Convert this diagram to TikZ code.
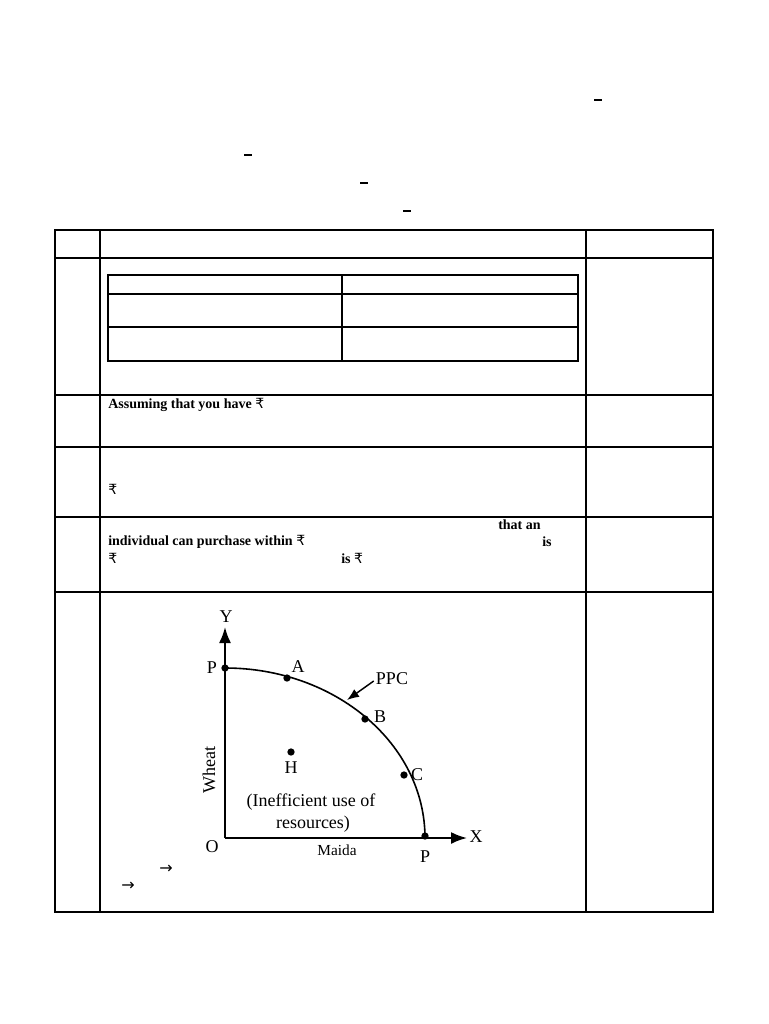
\documentclass[tikz,border=0pt]{standalone}
\usepackage{fontspec}
\setmainfont{Liberation Serif}
\newfontfamily\djv{DejaVu Sans}
\usetikzlibrary{arrows.meta}
\begin{document}
\begin{tikzpicture}[x=0.75pt,y=-0.75pt,
  tl/.style={line width=0.8pt},
  lbl/.style={font=\fontsize{13.5}{15}\selectfont,inner sep=0pt},
  bt/.style={font=\fontsize{10.5}{12}\selectfont\bfseries,inner sep=0pt,anchor=west},
  dot/.style={circle,fill=black,inner sep=0pt,minimum size=5.5pt}]
\useasboundingbox (0,0) rectangle (768,1024);
% dashes
\foreach \x/\y [count=\i] in {598/100,248/155,364/183,407/211}
  {\coordinate (da\i) at (\x-4,\y); \coordinate (db\i) at (\x+4,\y); \draw[line width=0.9pt] (da\i) -- (db\i);}
% main table
\draw[tl] (55,230) rectangle (713,912);
\foreach \x in {100,586} \draw[tl] (\x,230) -- (\x,912);
\foreach \y in {258,395,447,517,592} \draw[tl] (55,\y) -- (713,\y);
% inner table
\draw[tl] (108,275) rectangle (578,361);
\draw[tl] (342,275) -- (342,361);
\foreach \y in {294,327} \draw[tl] (108,\y) -- (578,\y);
% texts
\node[bt] (t1) at (108,405) {Assuming that you have {\djv\mdseries ₹}};
\node[bt] (t2) at (108,489) {{\djv\mdseries ₹}};
\node[bt] (t3) at (498,525) {that an};
\node[bt] (t4) at (108,542) {individual can purchase within {\djv\mdseries ₹}};
\node[bt] (t5) at (542,542) {is};
\node[bt] (t6) at (108,558) {{\djv\mdseries ₹}};
\node[bt] (t7) at (341,558) {is {\djv\mdseries ₹}};
\node[inner sep=0pt,font=\djv\large] (r1) at (166,869) {→};
\node[inner sep=0pt,font=\djv\large] (r2) at (128,886) {→};
% graph
\coordinate (O) at (225,838);
\coordinate (Ytip) at (225,627);
\coordinate (Xtip) at (467,838);
\draw[line width=1.5pt,-{Latex[length=12pt,width=9pt]}] (O) -- (Ytip);
\draw[line width=1.5pt,-{Latex[length=12pt,width=9pt]}] (O) -- (Xtip);
\draw[line width=1.2pt] (225,668) arc[start angle=90,end angle=0,x radius=200,y radius=-170];
\node[dot] (P1) at (225,668) {};
\node[dot] (P2) at (425,836) {};
\node[dot] (A) at (287,678) {};
\node[dot] (B) at (365,719) {};
\node[dot] (C) at (404,775) {};
\node[dot] (H) at (291,752) {};
\node[lbl] at (226,617) {Y};
\node[lbl] at (212,668) {P};
\node[lbl] at (298,667) {A};
\node[lbl] (ppc) at (392,679) {PPC};
\coordinate (pa) at (347,700);
\draw[line width=1.1pt,-{Latex[length=9pt,width=7pt]}] (ppc.west) ++(-2,2) -- (pa);
\node[lbl] at (380,717) {B};
\node[lbl] at (417,775) {C};
\node[lbl] at (291,768) {H};
\node[lbl,rotate=90] at (209,770) {Wheat};
\node[lbl] at (311,802) {(Inefficient use of};
\node[lbl] at (313,824) {resources)};
\node[lbl] at (212,847) {O};
\node[lbl,font=\fontsize{11.5}{13}\selectfont] at (337,850) {Maida};
\node[lbl] at (425,857) {P};
\node[lbl] at (476,837) {X};
\end{tikzpicture}
\end{document}
